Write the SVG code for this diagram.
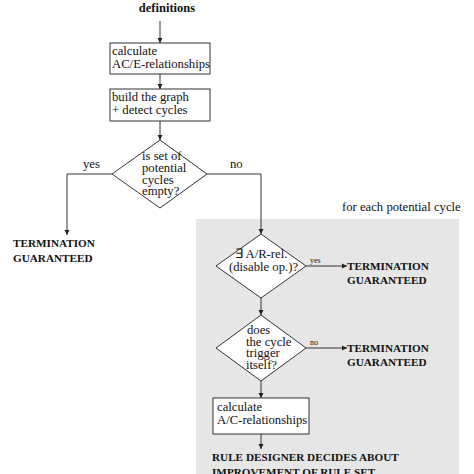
<svg xmlns="http://www.w3.org/2000/svg" width="474" height="474" viewBox="0 0 474 474">
<style>
.t{font-family:"Liberation Serif","Times New Roman",serif;font-size:12.7px;fill:#111}
.b{font-family:"Liberation Serif","Times New Roman",serif;font-size:11.2px;font-weight:bold;fill:#111}
.s{font-family:"Liberation Serif","Times New Roman",serif;font-size:8px;fill:#111}
.shape{fill:#fff;stroke:#333;stroke-width:1}
.c{fill:none;stroke:#333;stroke-width:1}
</style>
<defs>
<marker id="ah" viewBox="0 0 10 10" refX="10" refY="5" markerWidth="5" markerHeight="8" markerUnits="userSpaceOnUse" orient="auto">
<path d="M0,0 L10,5 L0,10 z" fill="#222"/>
</marker>
</defs>
<rect id="loop-region" x="196" y="219" width="263" height="260" fill="#e6e6e6"/>
<text class="t" x="342" y="211">for each potential cycle</text>
<g id="connectors">
<line class="c" x1="160" y1="21" x2="160" y2="43" marker-end="url(#ah)"/>
<line class="c" x1="160" y1="74" x2="160" y2="89" marker-end="url(#ah)"/>
<line class="c" x1="160" y1="121" x2="160" y2="140" marker-end="url(#ah)"/>
<polyline class="c" points="112,174 67,174 67,235" marker-end="url(#ah)"/>
<polyline class="c" points="207,174 261,174 261,234" marker-end="url(#ah)"/>
<line class="c" x1="306" y1="266" x2="347" y2="266" marker-end="url(#ah)"/>
<line class="c" x1="261" y1="298" x2="261" y2="315" marker-end="url(#ah)"/>
<line class="c" x1="306" y1="348" x2="347" y2="348" marker-end="url(#ah)"/>
<line class="c" x1="261" y1="381" x2="261" y2="398" marker-end="url(#ah)"/>
<line class="c" x1="261" y1="434" x2="261" y2="449" marker-end="url(#ah)"/>
<text class="t" x="83" y="168">yes</text>
<text class="t" x="230" y="168">no</text>
<text class="s" x="310" y="263">yes</text>
<text class="s" x="310" y="345">no</text>
</g>
<g id="definitions">
<text class="b" x="167" y="12" text-anchor="middle" style="font-size:12.5px">definitions</text>
</g>
<g id="calc-ace">
<rect class="shape" x="110" y="43" width="100" height="31"/>
<text class="t" x="112" y="54.5">calculate</text>
<text class="t" x="112" y="67.5">AC/E-relationships</text>
</g>
<g id="build-graph">
<rect class="shape" x="110" y="89" width="100" height="32"/>
<text class="t" x="112" y="101">build the graph</text>
<text class="t" x="112" y="114">+ detect cycles</text>
</g>
<g id="cycles-empty">
<polygon class="shape" points="160,140 207,174 160,208 112,174"/>
<text class="t" x="142" y="160">is set of</text>
<text class="t" x="142" y="172">potential</text>
<text class="t" x="142" y="183.5">cycles</text>
<text class="t" x="142" y="195">empty?</text>
</g>
<g id="term-left">
<text class="b" x="13" y="247">TERMINATION</text>
<text class="b" x="13" y="262">GUARANTEED</text>
</g>
<g id="exists-ar">
<polygon class="shape" points="261,234 306,266 261,298 216,266"/>
<text class="t" x="235" y="258">∃ A/R-rel.</text>
<text class="t" x="229" y="271">(disable op.)?</text>
</g>
<g id="term-1">
<text class="b" x="347" y="270">TERMINATION</text>
<text class="b" x="347" y="284">GUARANTEED</text>
</g>
<g id="self-trigger">
<polygon class="shape" points="261,315 306,348 261,381 216,348"/>
<text class="t" x="247" y="334">does</text>
<text class="t" x="246" y="345.5">the cycle</text>
<text class="t" x="246" y="357">trigger</text>
<text class="t" x="246" y="368.5">itself?</text>
</g>
<g id="term-2">
<text class="b" x="347" y="352">TERMINATION</text>
<text class="b" x="347" y="366">GUARANTEED</text>
</g>
<g id="calc-ac">
<rect class="shape" x="213" y="398" width="96" height="36"/>
<text class="t" x="217" y="411">calculate</text>
<text class="t" x="217" y="424">A/C-relationships</text>
</g>
<g id="rule-designer">
<text class="b" x="212" y="461">RULE DESIGNER DECIDES ABOUT</text>
<text class="b" x="212" y="476">IMPROVEMENT OF RULE SET</text>
</g>
</svg>
